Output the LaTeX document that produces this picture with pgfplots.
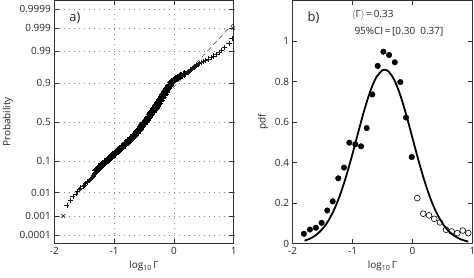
\documentclass[border=0pt]{standalone}
\usepackage{pgfplots}
\pgfplotsset{compat=1.18}
\usepackage{fontspec}
\setmainfont{Open Sans}

\pgfplotsset{
  panel/.style={
    scale only axis,
    anchor=south west,
    axis line style={black!80, line width=0.6pt},
    tick style={black!80, line width=0.6pt},
    tick align=inside,
    major tick length=4.5bp,
    xmin=-2, xmax=1,
    xtick={-2,-1,0,1},
    xticklabels={-2,-1,0,1},
    tick label style={font=\fontsize{10}{12}\selectfont, black!85},
    label style={font=\fontsize{10}{12}\selectfont, black!85},
    xlabel={log\textsubscript{10}\,Γ},
    clip=false,
  },
  qmark/.style={only marks, mark=+, mark size=3.1pt, black, mark options={line width=0.8pt}},
}

\begin{document}
\begin{tikzpicture}
\useasboundingbox (0,0) rectangle (474bp,278bp);

% ---------- a) normal probability plot ----------
\begin{axis}[panel,
  at={(54.3bp,34.5bp)}, width=179.4bp, height=243bp,
  ymin=-4, ymax=4,
  ytick={-3.719,-3.090,-2.326,-1.282,0,1.282,2.326,3.090,3.719},
  yticklabels={0.0001,0.001,0.01,0.1,0.5,0.9,0.99,0.999,0.9999},
  grid=major,
  grid style={black!45, line width=0.5pt, dash pattern=on 0.6pt off 4.4pt},
  ylabel={Probability},
]
% fitted normal reference line
\addplot[black!75, line width=0.5pt, dash pattern=on 5pt off 3.5pt]
  coordinates {(-0.6,-0.105) (1.0,3.255)};
% sample quantiles: tails
\addplot[only marks, mark=+, mark size=2.6pt, black!90, mark options={line width=0.6pt}]
coordinates {
(-1.79,-2.748)(-1.73,-2.576)(-1.69,-2.457)(-1.64,-2.366)(-1.61,-2.290)
(-1.58,-2.226)(-1.56,-2.170)(-1.52,-2.120)(-1.50,-2.075)(-1.48,-2.034)
(-1.45,-1.995)(-1.44,-1.960)(-1.41,-1.927)(-1.40,-1.896)(-1.38,-1.866)
(-1.38,-1.838)(-1.36,-1.812)(-1.35,-1.787)(-1.35,-1.762)(-1.34,-1.739)
(-1.33,-1.717)(-1.32,-1.695)(-1.31,-1.675)(-1.31,-1.655)(-1.30,-1.635)
(0.22,1.635)(0.24,1.655)(0.25,1.675)(0.27,1.695)(0.28,1.717)
(0.29,1.739)(0.31,1.762)(0.32,1.787)(0.34,1.812)(0.36,1.838)
(0.38,1.866)(0.40,1.896)(0.43,1.927)(0.46,1.960)(0.49,1.995)
(0.53,2.034)(0.58,2.075)(0.62,2.120)(0.66,2.170)(0.71,2.226)
(0.76,2.290)(0.80,2.366)(0.85,2.457)(0.92,2.576)(0.97,2.748)
};
% sample quantiles: dense central part
\addplot[qmark] coordinates {
(-1.31,-1.600)(-1.26,-1.575)(-1.29,-1.550)(-1.24,-1.525)(-1.27,-1.500)
(-1.215,-1.475)(-1.24,-1.450)(-1.185,-1.425)(-1.21,-1.400)(-1.155,-1.375)
(-1.18,-1.350)(-1.125,-1.325)(-1.15,-1.300)(-1.095,-1.275)(-1.12,-1.250)
(-1.07,-1.225)(-1.10,-1.200)(-1.045,-1.175)(-1.07,-1.150)(-1.015,-1.125)
(-1.04,-1.100)(-0.985,-1.075)(-1.01,-1.050)(-0.955,-1.025)(-0.98,-1.000)
(-0.925,-0.975)(-0.95,-0.950)(-0.90,-0.925)(-0.93,-0.900)(-0.875,-0.875)
(-0.90,-0.850)(-0.845,-0.825)(-0.87,-0.800)(-0.815,-0.775)(-0.84,-0.750)
(-0.79,-0.725)(-0.82,-0.700)(-0.765,-0.675)(-0.79,-0.650)(-0.735,-0.625)
(-0.76,-0.600)(-0.71,-0.575)(-0.74,-0.550)(-0.685,-0.525)(-0.71,-0.500)
(-0.66,-0.475)(-0.69,-0.450)(-0.635,-0.425)(-0.66,-0.400)(-0.61,-0.375)
(-0.64,-0.350)(-0.59,-0.325)(-0.62,-0.300)(-0.57,-0.275)(-0.60,-0.250)
(-0.55,-0.225)(-0.58,-0.200)(-0.53,-0.175)(-0.56,-0.150)(-0.51,-0.125)
(-0.54,-0.100)(-0.49,-0.075)(-0.52,-0.050)(-0.47,-0.025)(-0.50,0.000)
(-0.45,0.025)(-0.48,0.050)(-0.43,0.075)(-0.46,0.100)(-0.41,0.125)
(-0.44,0.150)(-0.395,0.175)(-0.43,0.200)(-0.38,0.225)(-0.41,0.250)
(-0.36,0.275)(-0.39,0.300)(-0.34,0.325)(-0.37,0.350)(-0.32,0.375)
(-0.35,0.400)(-0.30,0.425)(-0.33,0.450)(-0.285,0.475)(-0.32,0.500)
(-0.27,0.525)(-0.30,0.550)(-0.25,0.575)(-0.28,0.600)(-0.235,0.625)
(-0.27,0.650)(-0.22,0.675)(-0.25,0.700)(-0.205,0.725)(-0.24,0.750)
(-0.19,0.775)(-0.22,0.800)(-0.17,0.825)(-0.20,0.850)(-0.155,0.875)
(-0.19,0.900)(-0.14,0.925)(-0.17,0.950)(-0.125,0.975)(-0.16,1.000)
(-0.11,1.025)(-0.14,1.050)(-0.095,1.075)(-0.13,1.100)(-0.08,1.125)
(-0.11,1.150)(-0.06,1.175)(-0.09,1.200)(-0.045,1.225)(-0.08,1.250)
(-0.03,1.275)(-0.06,1.300)(-0.005,1.325)(-0.03,1.350)(0.025,1.375)
(0.00,1.400)(0.06,1.425)(0.04,1.450)(0.105,1.475)(0.09,1.500)
(0.15,1.525)(0.13,1.550)(0.195,1.575)(0.18,1.600)
};
\addplot[qmark] coordinates {
(-1.27,-1.5875)(-1.30,-1.5625)(-1.25,-1.5375)(-1.28,-1.5125)(-1.23,-1.4875)
(-1.255,-1.4625)(-1.20,-1.4375)(-1.225,-1.4125)(-1.17,-1.3875)(-1.195,-1.3625)
(-1.14,-1.3375)(-1.165,-1.3125)(-1.11,-1.2875)(-1.135,-1.2625)(-1.08,-1.2375)
(-1.11,-1.2125)(-1.06,-1.1875)(-1.085,-1.1625)(-1.03,-1.1375)(-1.055,-1.1125)
(-1.00,-1.0875)(-1.025,-1.0625)(-0.97,-1.0375)(-0.995,-1.0125)(-0.94,-0.9875)
(-0.965,-0.9625)(-0.91,-0.9375)(-0.94,-0.9125)(-0.89,-0.8875)(-0.915,-0.8625)
(-0.86,-0.8375)(-0.885,-0.8125)(-0.83,-0.7875)(-0.855,-0.7625)(-0.80,-0.7375)
(-0.83,-0.7125)(-0.78,-0.6875)(-0.805,-0.6625)(-0.75,-0.6375)(-0.775,-0.6125)
(-0.72,-0.5875)(-0.75,-0.5625)(-0.70,-0.5375)(-0.725,-0.5125)(-0.67,-0.4875)
(-0.70,-0.4625)(-0.65,-0.4375)(-0.675,-0.4125)(-0.62,-0.3875)(-0.65,-0.3625)
(-0.60,-0.3375)(-0.63,-0.3125)(-0.58,-0.2875)(-0.61,-0.2625)(-0.56,-0.2375)
(-0.59,-0.2125)(-0.54,-0.1875)(-0.57,-0.1625)(-0.52,-0.1375)(-0.55,-0.1125)
(-0.50,-0.0875)(-0.53,-0.0625)(-0.48,-0.0375)(-0.51,-0.0125)(-0.46,0.0125)
(-0.49,0.0375)(-0.44,0.0625)(-0.47,0.0875)(-0.42,0.1125)(-0.45,0.1375)
(-0.40,0.1625)(-0.435,0.1875)(-0.39,0.2125)(-0.42,0.2375)(-0.37,0.2625)
(-0.40,0.2875)(-0.35,0.3125)(-0.38,0.3375)(-0.33,0.3625)(-0.36,0.3875)
(-0.31,0.4125)(-0.34,0.4375)(-0.29,0.4625)(-0.325,0.4875)(-0.28,0.5125)
(-0.31,0.5375)(-0.26,0.5625)(-0.29,0.5875)(-0.24,0.6125)(-0.275,0.6375)
(-0.23,0.6625)(-0.26,0.6875)(-0.21,0.7125)(-0.245,0.7375)(-0.20,0.7625)
(-0.23,0.7875)(-0.18,0.8125)(-0.21,0.8375)(-0.16,0.8625)(-0.195,0.8875)
(-0.15,0.9125)(-0.18,0.9375)(-0.13,0.9625)(-0.165,0.9875)(-0.12,1.0125)
(-0.15,1.0375)(-0.10,1.0625)(-0.135,1.0875)(-0.09,1.1125)(-0.12,1.1375)
(-0.07,1.1625)(-0.10,1.1875)(-0.05,1.2125)(-0.085,1.2375)(-0.04,1.2625)
(-0.07,1.2875)(-0.02,1.3125)(-0.045,1.3375)(0.01,1.3625)(-0.015,1.3875)
(0.04,1.4125)(0.02,1.4375)(0.08,1.4625)(0.065,1.4875)(0.13,1.5125)
(0.11,1.5375)(0.17,1.5625)(0.155,1.5875)
};
% extreme order statistics
\addplot[only marks, mark=x, mark size=2.6pt, black!85, mark options={line width=0.6pt}]
  coordinates {(-1.85,-3.090) (0.99,3.090)};
\node[anchor=west, font=\fontsize{13}{15}\selectfont, black!85] at (rel axis cs:0.065,0.928) {a)};
\end{axis}

% ---------- b) probability density ----------
\begin{axis}[panel,
  at={(292.5bp,34.5bp)}, width=180bp, height=243bp,
  ymin=0, ymax=1.2,
  ytick={0,0.2,0.4,0.6,0.8,1},
  yticklabels={0,0.2,0.4,0.6,0.8,1},
  ylabel={pdf},
]
% fitted log-normal density
\addplot[black, line width=1.8pt, smooth] coordinates {
(-1.80,0.0139)(-1.70,0.0252)(-1.60,0.0436)(-1.50,0.0721)(-1.40,0.1136)
(-1.30,0.1711)(-1.20,0.2460)(-1.10,0.3377)(-1.00,0.4426)(-0.90,0.5539)
(-0.80,0.6619)(-0.70,0.7551)(-0.60,0.8226)(-0.50,0.8556)(-0.465,0.858)
(-0.40,0.8497)(-0.30,0.8057)(-0.20,0.7294)(-0.10,0.6305)(0.00,0.5204)
(0.10,0.4101)(0.20,0.3086)(0.30,0.2217)(0.40,0.1520)(0.50,0.0996)
(0.60,0.0623)(0.70,0.0372)(0.80,0.0212)(0.90,0.0115)(0.93,0.0095)
};
% empirical density, fitted range
\addplot[only marks, mark=*, mark size=2.8pt, black] coordinates {
(-1.81,0.048)(-1.71,0.069)(-1.61,0.078)(-1.515,0.102)(-1.42,0.163)
(-1.33,0.208)(-1.237,0.322)(-1.142,0.375)(-1.053,0.498)(-0.953,0.490)
(-0.858,0.480)(-0.763,0.570)(-0.67,0.736)(-0.58,0.877)(-0.485,0.947)
(-0.39,0.931)(-0.295,0.895)(-0.203,0.797)(-0.108,0.622)(-0.013,0.427)
};
% empirical density, excluded range
\addplot[only marks, mark=o, mark size=2.9pt, black, mark options={line width=0.6pt, fill=white}] coordinates {
(0.08,0.224)(0.18,0.147)(0.275,0.139)(0.363,0.122)(0.458,0.104)
(0.558,0.068)(0.653,0.059)(0.747,0.051)(0.837,0.064)(0.93,0.051)
};
\node[anchor=west, font=\fontsize{13}{15}\selectfont, black!85] at (rel axis cs:0.065,0.928) {b)};
\node[anchor=west, font=\fontsize{10}{12}\selectfont, black!85] at (rel axis cs:0.31,0.940) {$\langle$Γ$\rangle$\,=\,0.33};
\node[anchor=west, font=\fontsize{10}{12}\selectfont, black!85] at (rel axis cs:0.325,0.870) {95\%CI\,=\,[0.30\ \ 0.37]};
\end{axis}
\end{tikzpicture}
\end{document}
